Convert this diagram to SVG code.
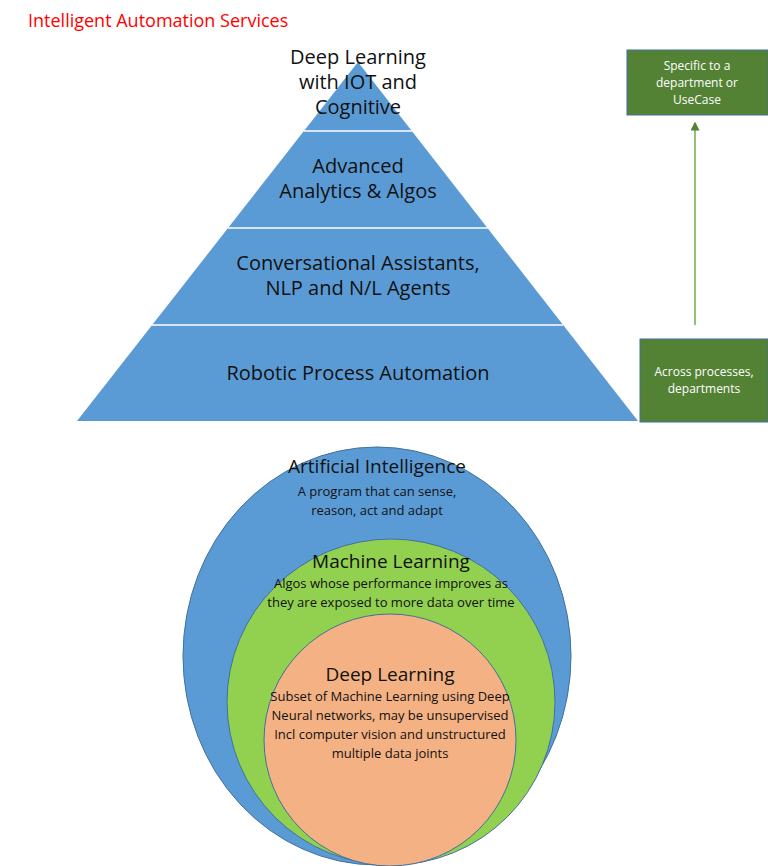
<svg xmlns="http://www.w3.org/2000/svg" width="768" height="866" viewBox="0 0 768 866">
<style>
text{font-family:"Open Sans","Liberation Sans",sans-serif;text-anchor:middle}
.big{font-size:20px;fill:#111}
.sm{font-size:13px;fill:#111}
.bx{font-size:12px;fill:#fff}
.g{fill:#548235;stroke:#41719c;stroke-width:1}
</style>
<defs><marker id="ah" markerWidth="6" markerHeight="6" refX="3" refY="3" orient="auto"><path d="M0,0L6,3L0,6z" fill="#548235"/></marker></defs>
<rect width="768" height="866" fill="#fff"/>
<text x="28" y="27" style="font-size:18px;fill:#f00;text-anchor:start">Intelligent Automation Services</text>
<g id="pyramid">
<polygon points="358,62 638,421 77,421" fill="#5b9bd5"/>
<g stroke="#fff" stroke-width="1.5">
<line x1="304" y1="131" x2="412" y2="131"/>
<line x1="228" y1="228" x2="488" y2="228"/>
<line x1="152" y1="325" x2="563" y2="325"/>
</g>
</g>
<g id="l1"><text class="big" x="358" y="64">Deep Learning</text><text class="big" x="358" y="89">with IOT and</text><text class="big" x="358" y="114">Cognitive</text></g>
<g id="l2"><text class="big" x="358" y="173">Advanced</text><text class="big" x="358" y="198">Analytics &amp; Algos</text></g>
<g id="l3"><text class="big" x="358" y="270">Conversational Assistants,</text><text class="big" x="358" y="295">NLP and N/L Agents</text></g>
<g id="l4"><text class="big" x="358" y="380">Robotic Process Automation</text></g>
<g id="boxTop"><rect class="g" x="627" y="50" width="141" height="65"/><text class="bx" x="697" y="70">Specific to a</text><text class="bx" x="697" y="87">department or</text><text class="bx" x="697" y="104">UseCase</text></g>
<g id="boxBot"><rect class="g" x="640" y="339" width="128" height="83"/><text class="bx" x="704" y="376">Across processes,</text><text class="bx" x="704" y="393">departments</text></g>
<g id="connectors"><line x1="695" y1="325" x2="695" y2="126" stroke="#70ad47" stroke-width="1.5" marker-end="url(#ah)"/></g>
<g id="ai"><ellipse cx="377" cy="656" rx="194" ry="209" fill="#5b9bd5" stroke="#41719c"/><text class="big" x="377" y="473" style="font-size:19px">Artificial Intelligence</text><text class="sm" x="377" y="496">A program that can sense,</text><text class="sm" x="377" y="515">reason, act and adapt</text></g>
<g id="ml"><ellipse cx="391" cy="702" rx="164" ry="163" fill="#92d050" stroke="#41719c"/><text class="big" x="391" y="568" style="font-size:19px">Machine Learning</text><text class="sm" x="391" y="588">Algos whose performance improves as</text><text class="sm" x="391" y="607">they are exposed to more data over time</text></g>
<g id="dl"><ellipse cx="390" cy="740" rx="126" ry="126" fill="#f4b183" stroke="#41719c"/><text class="big" x="390" y="681" style="font-size:19px">Deep Learning</text><text class="sm" x="390" y="701">Subset of Machine Learning using Deep</text><text class="sm" x="390" y="720">Neural networks, may be unsupervised</text><text class="sm" x="390" y="739">Incl computer vision and unstructured</text><text class="sm" x="390" y="758">multiple data joints</text></g>
</svg>
